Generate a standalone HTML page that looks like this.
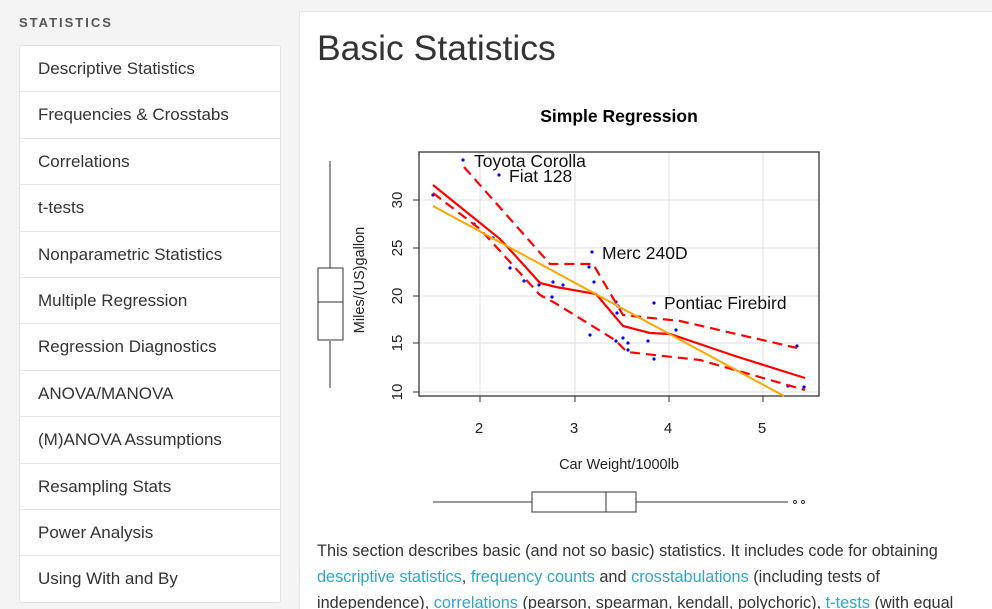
<!DOCTYPE html>
<html><head><meta charset="utf-8"><style>
html,body{margin:0;width:992px;height:609px;overflow:hidden}
body{background:#f4f4f4;font-family:"Liberation Sans",sans-serif;position:relative}
.hd{position:absolute;left:19px;top:15px;font-size:13px;font-weight:bold;letter-spacing:2px;color:#555}
.side{position:absolute;left:19px;top:45px;width:260px;background:#fff;border:1px solid #e2e2e2;border-radius:3px}
.side div{height:45.4px;line-height:46px;border-top:1px solid #e6e6e6;padding-left:18px;font-size:17px;color:#333}
.side div:first-child{border-top:none}
.main{position:absolute;left:299px;top:11px;width:700px;height:598px;background:#fff;border:1px solid #e6e6e6;border-bottom:none}
h1{position:absolute;left:317px;top:28px;margin:0;font-weight:normal;font-size:35.5px;color:#333}
p{position:absolute;left:317px;top:538px;margin:0;width:680px;font-size:16.3px;line-height:26px;color:#333;white-space:nowrap}
a{color:#2ea6c7;text-decoration:none}
svg{position:absolute;left:0;top:0}
</style></head><body>
<div class="hd">STATISTICS</div>
<div class="side">
<div>Descriptive Statistics</div><div>Frequencies &amp; Crosstabs</div><div>Correlations</div><div>t-tests</div><div>Nonparametric Statistics</div><div>Multiple Regression</div><div>Regression Diagnostics</div><div>ANOVA/MANOVA</div><div>(M)ANOVA Assumptions</div><div>Resampling Stats</div><div>Power Analysis</div><div>Using With and By</div>
</div>
<div class="main"></div>
<h1>Basic Statistics</h1>
<svg width="992" height="609" font-family="Liberation Sans,sans-serif">
<text x="619" y="122" text-anchor="middle" font-weight="bold" font-size="17.5">Simple Regression</text>
<g stroke="#ddd" stroke-width="1">
<line x1="480" y1="152" x2="480" y2="396"/><line x1="575" y1="152" x2="575" y2="396"/><line x1="669" y1="152" x2="669" y2="396"/><line x1="763" y1="152" x2="763" y2="396"/>
<line x1="419" y1="200" x2="819" y2="200"/><line x1="419" y1="248" x2="819" y2="248"/><line x1="419" y1="296" x2="819" y2="296"/><line x1="419" y1="343" x2="819" y2="343"/><line x1="419" y1="392" x2="819" y2="392"/>
</g>
<rect x="419" y="152" width="400" height="244" fill="none" stroke="#333" stroke-width="1.3"/>
<g stroke="#333"><line x1="480" y1="396" x2="480" y2="402"/><line x1="575" y1="396" x2="575" y2="402"/><line x1="669" y1="396" x2="669" y2="402"/><line x1="763" y1="396" x2="763" y2="402"/>
<line x1="413" y1="200" x2="419" y2="200"/><line x1="413" y1="248" x2="419" y2="248"/><line x1="413" y1="296" x2="419" y2="296"/><line x1="413" y1="343" x2="419" y2="343"/><line x1="413" y1="392" x2="419" y2="392"/></g>
<g font-size="15" fill="#222" text-anchor="middle"><text x="479" y="433">2</text><text x="574" y="433">3</text><text x="668" y="433">4</text><text x="762" y="433">5</text>
<text transform="translate(402,200) rotate(-90)">30</text><text transform="translate(402,248) rotate(-90)">25</text><text transform="translate(402,296) rotate(-90)">20</text><text transform="translate(402,343) rotate(-90)">15</text><text transform="translate(402,392) rotate(-90)">10</text>
<text x="619" y="469" font-size="14.5">Car Weight/1000lb</text>
<text transform="translate(364,280) rotate(-90)" font-size="14.5">Miles/(US)gallon</text></g>
<g fill="#00f">
<circle cx="433" cy="195" r="1.6"/><circle cx="463" cy="160" r="1.6"/><circle cx="499" cy="175" r="1.6"/><circle cx="474" cy="224" r="1.6"/><circle cx="493" cy="238" r="1.6"/><circle cx="510" cy="268" r="1.6"/><circle cx="524" cy="281" r="1.6"/><circle cx="539" cy="285" r="1.6"/><circle cx="553" cy="282" r="1.6"/><circle cx="552" cy="297" r="1.6"/><circle cx="563" cy="285" r="1.6"/><circle cx="589" cy="267" r="1.6"/><circle cx="592" cy="252" r="1.6"/><circle cx="594" cy="282" r="1.6"/><circle cx="590" cy="335" r="1.6"/><circle cx="616" cy="302" r="1.6"/><circle cx="617" cy="313" r="1.6"/><circle cx="618" cy="306" r="1.6"/><circle cx="616" cy="341" r="1.6"/><circle cx="623" cy="338" r="1.6"/><circle cx="628" cy="343" r="1.6"/><circle cx="628" cy="350" r="1.6"/><circle cx="648" cy="341" r="1.6"/><circle cx="654" cy="303" r="1.6"/><circle cx="654" cy="359" r="1.6"/><circle cx="676" cy="330" r="1.6"/><circle cx="788" cy="386" r="1.6"/><circle cx="797" cy="346" r="1.6"/><circle cx="804" cy="387" r="1.6"/>
</g>
<g font-size="17.5" fill="#111"><text x="474" y="167">Toyota Corolla</text><text x="509" y="182">Fiat 128</text><text x="602" y="259">Merc 240D</text><text x="664" y="309">Pontiac Firebird</text></g>
<g fill="none" stroke="#f00" stroke-width="2.2">
<polyline points="433,185 500,239 512,252 540,283 556,287 596,294 623,326 650,333 670,334 735,356 805,378"/>
<polyline stroke-dasharray="10,6" points="464,167 550,264 593,264 623,315 680,321 797,348"/>
<polyline stroke-dasharray="10,6" points="433,193 480,229 540,295 555,303 615,340 627,352 700,360 805,390"/>
</g>
<line x1="433" y1="206" x2="784" y2="396" stroke="#ffa500" stroke-width="2"/>
<g stroke="#333" fill="none" stroke-width="1">
<line x1="330" y1="161" x2="330" y2="268"/><line x1="330" y1="341" x2="330" y2="388"/>
<rect x="318" y="268" width="25" height="72"/><line x1="318" y1="302" x2="343" y2="302"/>
<line x1="433" y1="502" x2="532" y2="502"/><line x1="636" y1="502" x2="788" y2="502"/>
<rect x="532" y="492" width="104" height="20"/><line x1="606" y1="492" x2="606" y2="512"/>
<circle cx="795" cy="502" r="1.5"/><circle cx="803" cy="502" r="1.5"/>
</g>
</svg>
<p>This section describes basic (and not so basic) statistics. It includes code for obtaining<br><a>descriptive statistics</a>, <a>frequency counts</a> and <a>crosstabulations</a> (including tests of<br>independence), <a>correlations</a> (pearson, spearman, kendall, polychoric), <a>t-tests</a> (with equal</p>
</body></html>
